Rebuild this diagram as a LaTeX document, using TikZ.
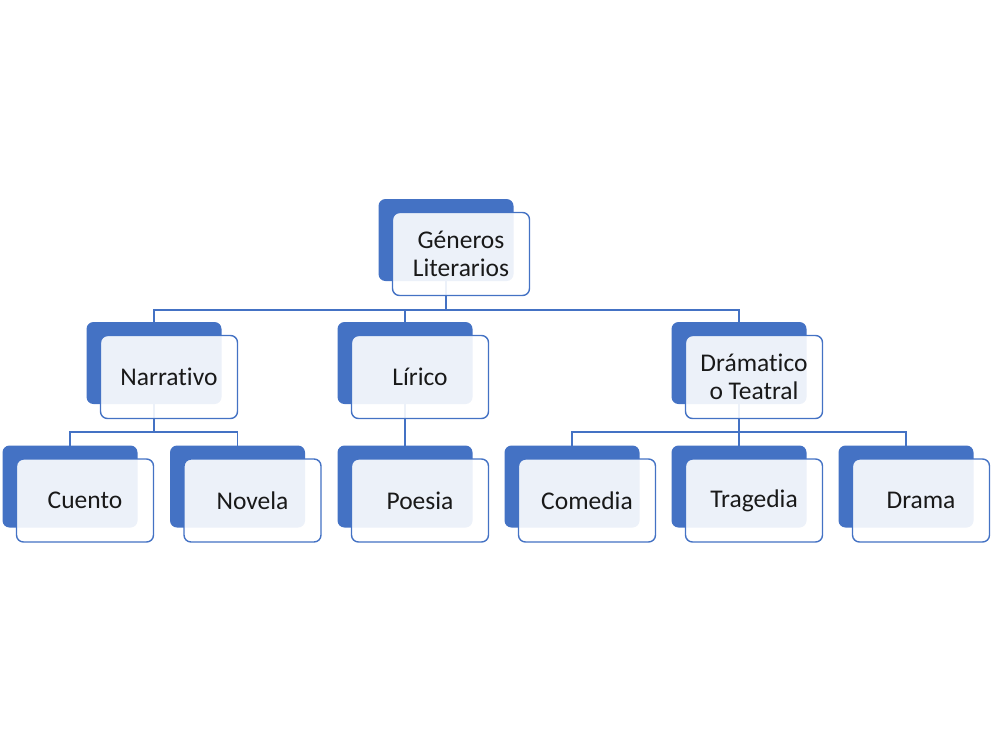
\documentclass[tikz,border=0pt]{standalone}
\usepackage{fontspec}
\setmainfont{Carlito}[Ligatures={NoCommon}]
\usetikzlibrary{calc}
\definecolor{obl}{HTML}{4472C4}
\begin{document}
\begin{tikzpicture}[x=1pt,y=-1pt,
  backbox/.style={fill=obl,draw=none,rounded corners=7pt,minimum width=135pt,minimum height=82pt,inner sep=0pt},
  frontbox/.style={fill=white,fill opacity=0.9,text opacity=1,draw=obl,line width=1.4pt,rounded corners=7pt,minimum width=137pt,minimum height=83pt,inner sep=0pt,align=center,font=\fontsize{25.5}{28}\selectfont,text=black!90},
  conn/.style={draw=obl,line width=1.4pt}]
\useasboundingbox (0,0) rectangle (1000,750);
% back box centres (named coordinates)
\coordinate (gb) at (446,240);
\coordinate (nb) at (154,363);
\coordinate (lb) at (405,363);
\coordinate (db) at (739,363);
\coordinate (cb) at (70,486.5);
\coordinate (vb) at (237.5,486.5);
\coordinate (pb) at (405,486.5);
\coordinate (mb) at (572,486.5);
\coordinate (tb) at (739,486.5);
\coordinate (rb) at (906,486.5);
% connectors
\draw[conn] (gb) -- ($(gb|-0,310)$) -| (nb);
\draw[conn] ($(gb|-0,310)$) -| (lb);
\draw[conn] ($(gb|-0,310)$) -| (db);
\draw[conn] (nb) -- ($(nb|-0,432)$) -| (cb);
\draw[conn] ($(nb|-0,432)$) -| (vb);
\draw[conn] (lb) -- (pb);
\draw[conn] (db) -- ($(db|-0,432)$) -| (mb);
\draw[conn] ($(db|-0,432)$) -| (rb);
\draw[conn] ($(db|-0,432)$) -- (tb);
% boxes
\foreach \n/\t in {gb/{Géneros\\Literarios},nb/Narrativo,lb/Lírico,db/{Drámatico\\o Teatral},cb/Cuento,vb/Novela,pb/Poesia,mb/Comedia,tb/Tragedia,rb/Drama}{
  \node[backbox] (\n-back) at (\n) {};
  \node[frontbox] (\n-front) at ($(\n)+(15,14)$) {\t};
}
\end{tikzpicture}
\end{document}
